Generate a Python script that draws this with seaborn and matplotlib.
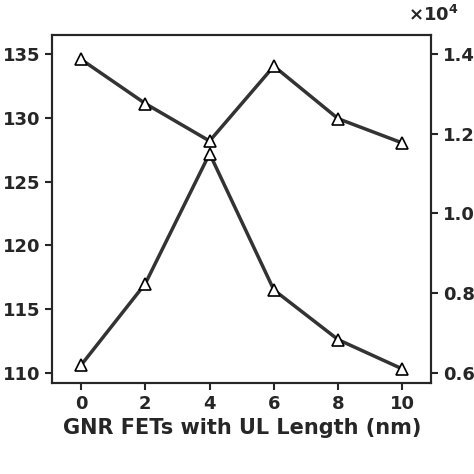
import numpy as np
import pandas as pd
import seaborn as sns
import matplotlib.pyplot as plt
from matplotlib.patches import Ellipse

sns.set_style("ticks")
plt.rcParams['font.family'] = ['DejaVu Sans']
plt.rcParams['font.weight'] = 'bold'

# data
ul_length = [0, 2, 4, 6, 8, 10]
left_vals = [110.6, 117.0, 127.2, 116.5, 112.6, 110.3]
right_vals = [1.387, 1.276, 1.182, 1.370, 1.238, 1.177]  # x10^4

df = pd.DataFrame({'ul': ul_length, 'left': left_vals, 'right': right_vals})

fig = plt.figure(figsize=(4.74, 4.74), dpi=100)
ax = fig.add_axes([0.11, 0.192, 0.80, 0.734])
ax2 = ax.twinx()

style = dict(color='#333333', lw=2.5, marker='^', markersize=8,
             markerfacecolor='white', markeredgecolor='black', markeredgewidth=1.2)
sns.lineplot(data=df, x='ul', y='left', ax=ax, **style)
sns.lineplot(data=df, x='ul', y='right', ax=ax2, **style)

ylo, yhi = 109.2, 136.5
ax.set_xlim(-0.9, 10.9)
ax.set_ylim(ylo, yhi)
ax2.set_ylim(0.6 + (ylo - 110) * 0.8 / 25, 0.6 + (yhi - 110) * 0.8 / 25)
ax.set_xticks(ul_length)
ax.set_yticks([110, 115, 120, 125, 130, 135])
ax2.set_yticks([0.6, 0.8, 1.0, 1.2, 1.4])
ax2.set_yticklabels(['0.6', '0.8', '1.0', '1.2', '1.4'])
for a in (ax, ax2):
    a.tick_params(labelsize=13, width=1.5, length=5, direction='out')
    for s in a.spines.values():
        s.set_linewidth(1.5)
ax.set_ylabel('')
ax2.set_ylabel('')
ax.set_xlabel('GNR FETs with UL Length (nm)', fontsize=15, fontweight='bold')
fig.text(0.86, 0.955, r'$\times10^4$', fontsize=13)

# annotations
ax.add_patch(Ellipse((6.8, 130.2), 0.9, 4.8, fill=False, lw=1))
ax.annotate('', xy=(8.9, 127.9), xytext=(6.9, 127.9),
            arrowprops=dict(arrowstyle='->', lw=1))
ax.add_patch(Ellipse((7.1, 114.0), 0.9, 4.8, fill=False, lw=1))
ax.annotate('', xy=(3.8, 111.6), xytext=(6.6, 111.6),
            arrowprops=dict(arrowstyle='->', lw=1))

fig.savefig('out.png', dpi=100)
